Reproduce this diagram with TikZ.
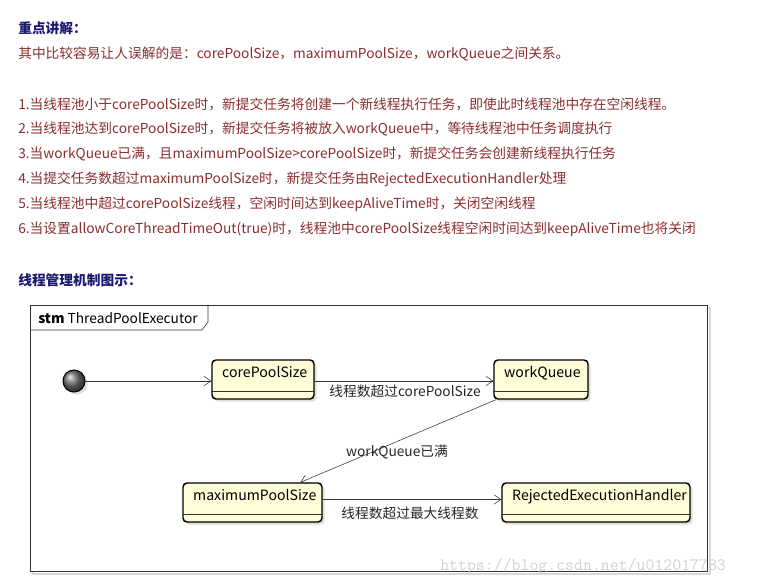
\documentclass[tikz,border=0pt]{standalone}
\usepackage{fontspec}
\setmainfont{Noto Sans CJK SC}
\usetikzlibrary{arrows.meta,positioning,shadows}
\definecolor{headblue}{HTML}{1A1A6E}
\definecolor{textred}{HTML}{8B2E2E}
\definecolor{statefill}{HTML}{FEFDD8}
\tikzset{
  para/.style={anchor=west, text=textred, font=\fontsize{10.3}{12}\selectfont, inner sep=0pt},
  head/.style={anchor=west, text=headblue, font=\fontsize{10.3}{12}\selectfont\bfseries, inner sep=0pt},
  statebox/.style={draw=black, line width=1.1pt, rounded corners=3pt, fill=statefill,
    drop shadow={shadow xshift=2pt, shadow yshift=-2pt, fill=black!25},
    minimum height=29.25pt},
  statename/.style={font=\fontsize{10.6}{12}\selectfont, anchor=north west, inner sep=0pt},
  trans/.style={-{Straight Barb[length=5pt,width=7pt]}, black!80, thin},
  edgelabel/.style={font=\fontsize{10.3}{12}\selectfont, text=black!85, inner sep=1pt}
}
\begin{document}
\begin{tikzpicture}[x=0.75pt, y=-0.75pt]
    \useasboundingbox (0,0) rectangle (772,586);
    \fill[white] (0,0) rectangle (772,586);

    % text above the diagram
    \node[head] (t0) at (18,28) {重点讲解：};
    \node[para] (t1) at (18,54) {其中比较容易让人误解的是：corePoolSize，maximumPoolSize，workQueue之间关系。};
    \node[para] (l1) at (18,104) {1.当线程池小于corePoolSize时，新提交任务将创建一个新线程执行任务，即使此时线程池中存在空闲线程。};
    \node[para] (l2) at (18,129) {2.当线程池达到corePoolSize时，新提交任务将被放入workQueue中，等待线程池中任务调度执行};
    \node[para] (l3) at (18,154) {3.当workQueue已满，且maximumPoolSize>corePoolSize时，新提交任务会创建新线程执行任务};
    \node[para] (l4) at (18,179) {4.当提交任务数超过maximumPoolSize时，新提交任务由RejectedExecutionHandler处理};
    \node[para] (l5) at (18,204) {5.当线程池中超过corePoolSize线程，空闲时间达到keepAliveTime时，关闭空闲线程};
    \node[para] (l6) at (18,229) {6.当设置allowCoreThreadTimeOut(true)时，线程池中corePoolSize线程空闲时间达到keepAliveTime也将关闭};
    \node[head] (t2) at (18,280) {线程管理机制图示：};

    % frame
    \draw[black!15, line width=2pt] (33,308) rectangle (710,574);
    \draw[black!80, fill=white] (30,305) rectangle (707,571);
    \draw[black!80] (30,330) -- (202,330) -- (208,322) -- (208,305);
    \node[anchor=west, font=\fontsize{10.3}{12}\selectfont, inner sep=0pt] (frame) at (38,318)
        {\textbf{stm} ThreadPoolExecutor};

    % states
    \shade[ball color=black!55, drop shadow={shadow xshift=2pt, shadow yshift=-2pt, fill=black!25}]
        (74,381) circle (8.25pt);
    \draw[black, line width=0.8pt] (74,381) circle (8.25pt);
    \coordinate (init) at (85,381);
    \node[statebox, minimum width=76.5pt] (core) at (263,379.5) {};
    \node[statebox, minimum width=70.5pt] (queue) at (541,379.5) {};
    \node[statebox, minimum width=104.25pt] (max) at (252.5,502.5) {};
    \node[statebox, minimum width=141pt] (reject) at (596,502.5) {};
    \foreach \s/\t in {core/corePoolSize, queue/workQueue, max/maximumPoolSize, reject/RejectedExecutionHandler} {
        \draw[black!80, line width=0.6pt] ([yshift=-9pt]\s.west) -- ([yshift=-9pt]\s.east);
        \node[statename] at ([xshift=8pt,yshift=-5pt]\s.north west) {\t};
    }

    % transitions
    \draw[trans] (init) -- (init -| core.west);
    \draw[trans] (core.east |- init) -- (queue.west |- init);
    \node[edgelabel] (lab1) at (405,391) {线程数超过corePoolSize};
    \draw[trans] ([xshift=2pt]queue.south west) -- ([xshift=36pt]max.north);
    \node[edgelabel] (lab2) at (397,452) {workQueue已满};
    \draw[trans] ([yshift=2.25pt]max.east) -- ([yshift=2.25pt]reject.west);
    \node[edgelabel] (lab3) at (410,513) {线程数超过最大线程数};

    % watermark
    \node[text=black!18, font=\fontsize{13}{14}\selectfont\ttfamily, anchor=west, inner sep=0pt]
        (mark) at (440,566) {https://blog.csdn.net/u012017783};
\end{tikzpicture}
\end{document}
